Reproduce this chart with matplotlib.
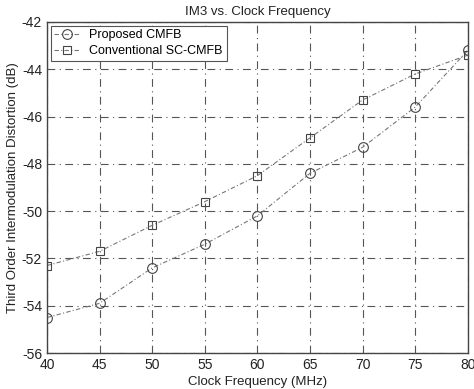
import matplotlib
matplotlib.use("Agg")
import matplotlib.pyplot as plt

# clock frequency (MHz)
freq = [40, 45, 50, 55, 60, 65, 70, 75, 80]
# IM3 in dB
proposed = [-54.5, -53.9, -52.4, -51.4, -50.2, -48.4, -47.3, -45.6, -43.2]
conventional = [-52.3, -51.7, -50.6, -49.6, -48.5, -46.9, -45.3, -44.2, -43.4]

xticks = [40, 45, 50, 55, 60, 65, 70, 75, 80]
yticks = [-56, -54, -52, -50, -48, -46, -44, -42]

plt.rcParams['font.family'] = ['Liberation Sans', 'DejaVu Sans']
plt.rcParams['axes.unicode_minus'] = False

fig = plt.figure(figsize=(4.74, 3.89), dpi=100)
ax = fig.add_axes([0.099, 0.0925, 0.888, 0.851])

ax.plot(freq, proposed, color='#777777', lw=0.8, ls=(0, (4, 2, 1, 2)), marker='o',
        mfc='none', mec='#444444', ms=7, mew=0.8, label='Proposed CMFB')
ax.plot(freq, conventional, color='#777777', lw=0.8, ls=(0, (4, 2, 1, 2)), marker='s',
        mfc='none', mec='#444444', ms=6, mew=0.8, label='Conventional SC-CMFB')

ax.set_xlim(40, 80)
ax.set_ylim(-56, -42)
ax.set_xticks(xticks)
ax.set_yticks(yticks)
ax.tick_params(labelsize=10, direction='in', length=0, colors='#222222')
ax.grid(True, ls=(0, (7, 4, 1, 4)), color='#555555', lw=0.8)

for s in ax.spines.values():
    s.set_color('#444444')
    s.set_linewidth(1.0)

ax.set_title('IM3 vs. Clock Frequency', fontsize=9.5, color='#222222', pad=5)
ax.set_xlabel('Clock Frequency (MHz)', fontsize=9.5, color='#222222', labelpad=3)
ax.set_ylabel('Third Order Intermodulation Distortion (dB)', fontsize=9.5, color='#222222', labelpad=2)

leg = ax.legend(loc='upper left', fontsize=9, fancybox=False, framealpha=1,
                edgecolor='#555555', borderaxespad=0.3, handlelength=2.0,
                borderpad=0.3, labelspacing=0.3)
leg.get_frame().set_linewidth(0.8)

fig.savefig('out.png', dpi=100)
